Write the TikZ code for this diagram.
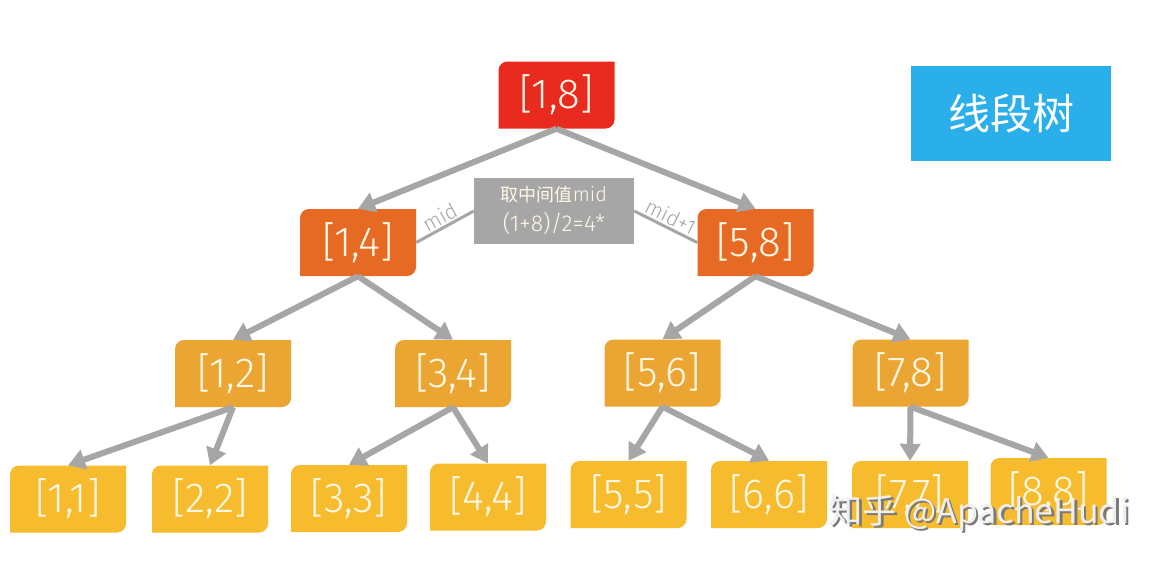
\documentclass[tikz,border=0pt]{standalone}
\usepackage{fontspec}
\newfontfamily\cjk{Noto Sans CJK SC}
\newfontfamily\lat{Fira Sans Light}
\usetikzlibrary{arrows.meta,calc}
\definecolor{cRoot}{HTML}{E92A1E}
\definecolor{cMid}{HTML}{E66A24}
\definecolor{cLev}{HTML}{EAA532}
\definecolor{cLeaf}{HTML}{F7BB2E}
\definecolor{cBlue}{HTML}{2BAFEA}
\definecolor{cGray}{HTML}{A6A6A6}
\definecolor{cText}{HTML}{FFF8E6}
\definecolor{cWm}{HTML}{EFEFEF}
\definecolor{cWmS}{HTML}{7A7A7A}
\tikzset{
  seg/.style={inner sep=0pt, minimum width=116pt, minimum height=67pt,
    font=\lat\fontsize{42}{44}\selectfont, text=cText,
    path picture={\fill[#1]
      ($(path picture bounding box.north west)+(0,-9pt)$)
        arc[start angle=180,end angle=90,radius=9pt]
      -- (path picture bounding box.north east)
      -- ($(path picture bounding box.south east)+(0,9pt)$)
        arc[start angle=0,end angle=-90,radius=9pt]
      -- (path picture bounding box.south west) -- cycle;}},
  link/.style={draw=cGray, line width=6pt, -{Triangle[width=20pt,length=17pt]}},
  thin/.style={draw=cGray, line width=3pt},
  midlbl/.style={font=\lat\fontsize{21}{22}\selectfont, text=cGray, inner sep=1.5pt},
  wmark/.style={font=\cjk\fontsize{34}{38}\selectfont, inner sep=0pt},
}
\begin{document}
\begin{tikzpicture}[x=1pt,y=-1pt]
\useasboundingbox[fill=white] (0,0) rectangle (1165,566);
% level 1
\node[seg=cRoot] (r18) at (556.5,95) {[1,8]};
% title
\node[fill=cBlue, inner sep=0pt, minimum width=200pt, minimum height=95pt,
  text=white, font=\cjk\fontsize{42}{46}\selectfont] (title) at (1011,113) {线段树};
% level 2
\node[seg=cMid] (n14) at (358,242.5) {[1,4]};
\node[seg=cMid] (n58) at (755.5,242.5) {[5,8]};
% note box
\node[fill=cGray, inner sep=0pt, minimum width=160pt, minimum height=66pt,
  text=cText, align=center, font=\cjk\fontsize{18}{30}\selectfont] (note) at (554,211)
  {取中间值{\lat\fontsize{20}{30}\selectfont mid}\\{\lat\fontsize{23}{30}\selectfont (1+8)/2=4*}};
% level 3
\node[seg=cLev] (n12) at (233,373.5) {[1,2]};
\node[seg=cLev] (n34) at (453,373.5) {[3,4]};
\node[seg=cLev] (n56) at (662.5,373) {[5,6]};
\node[seg=cLev] (n78) at (910.5,373) {[7,8]};
% leaves
\node[seg=cLeaf] (n11) at (68,499) {[1,1]};
\node[seg=cLeaf] (n22) at (210,499) {[2,2]};
\node[seg=cLeaf] (n33) at (349,498.5) {[3,3]};
\node[seg=cLeaf] (n44) at (488,497) {[4,4]};
\node[seg=cLeaf] (n55) at (628.5,494.5) {[5,5]};
\node[seg=cLeaf] (n66) at (769,494.5) {[6,6]};
\node[seg=cLeaf] (n77) at (910,494.5) {[7,7]};
\node[seg=cLeaf] (n88) at (1048.5,491.5) {[8,8]};
% arrows
\draw[link] (r18.south) -- (n14.north);
\draw[link] (r18.south) -- (n58.north);
\draw[link] (n14.south) -- (n12.north);
\draw[link] (n14.south) -- (n34.north);
\draw[link] (n58.south) -- (n56.north);
\draw[link] (n58.south) -- (n78.north);
\draw[link] (n12.south) -- (n11.north);
\draw[link] (n12.south) -- (n22.north);
\draw[link] (n34.south) -- (n33.north);
\draw[link] (n34.south) -- (n44.north);
\draw[link] (n56.south) -- (n55.north);
\draw[link] (n56.south) -- (n66.north);
\draw[link] (n78.south) -- (n77.north);
\draw[link] (n78.south) -- (n88.north);
% thin connectors
\draw[thin] (n14.east) -- node[midlbl, midway, above, sloped] {mid} (note.west);
\draw[thin] (note.east) -- node[midlbl, midway, above, sloped] {mid+1} (n58.west);
% watermark
\node[wmark, text=cWmS] (wms) at (981.5,515.5) {知乎 @ApacheHudi};
\node[wmark, text=cWm] (wm) at (979,513) {知乎 @ApacheHudi};
\end{tikzpicture}
\end{document}
